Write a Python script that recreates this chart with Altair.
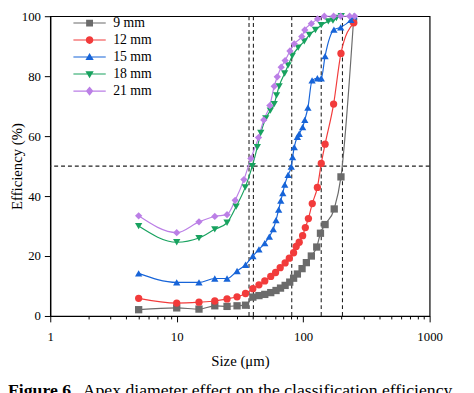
import altair as alt
import pandas as pd

series_names = ["9 mm", "12 mm", "15 mm", "18 mm", "21 mm"]
colors = ["#6b6b6b", "#f23b3b", "#1764d8", "#18a25f", "#bb7fe6"]
point_shapes = ["square", "circle", "triangle-up", "triangle-down", "diamond"]

size_9 = [5, 10, 15, 20, 25, 30, 35, 40, 44.7, 49.7, 55.4, 61, 66.2, 72, 78.3, 84, 90, 98, 106, 116, 128, 137, 149, 176, 199, 250]
eff_9 = [2.1, 2.7, 2.3, 3.4, 3.2, 3.4, 3.6, 6.3, 6.8, 7.2, 7.8, 8.5, 9.3, 10.2, 11.3, 12.6, 14.0, 15.8, 17.8, 20.0, 23.0, 27.6, 30.5, 35.7, 46.4, 98.5]

size_12 = [5, 10, 15, 20, 25, 30, 35, 40, 44.7, 49.7, 55.4, 60.5, 65.8, 72, 77.7, 84, 88, 93, 99, 104, 110, 118, 129.5, 139, 149, 174, 199, 251]
eff_12 = [5.9, 4.3, 4.6, 5.0, 5.7, 6.4, 7.5, 9.1, 10.4, 11.7, 13.2, 14.5, 16.1, 17.7, 19.3, 21.1, 23.2, 24.6, 26.8, 29.5, 32.5, 37.5, 42.9, 50.9, 57.3, 70.7, 87.6, 97.8]

size_15 = [5, 10, 15, 20, 25, 30, 35, 40, 44.7, 49.7, 54, 58, 61, 64, 66.5, 69, 71.5, 76, 80.5, 82.5, 85, 90, 93, 99, 103, 109, 117.6, 129.5, 139, 149, 175, 198, 238, 252]
eff_15 = [14.2, 11.2, 11.2, 12.5, 12.5, 15.0, 17.1, 20.0, 22.2, 24.3, 26.5, 29.0, 32.0, 35.5, 38.5, 41.0, 43.8, 47.1, 49.8, 53.0, 56.3, 59.8, 60.8, 63.0, 65.4, 69.5, 78.6, 79.3, 79.3, 86.7, 95.5, 96.3, 98.8, 100]

size_18 = [5, 10, 15, 20, 25, 29.5, 34.8, 39.6, 43.4, 46.2, 50.6, 55, 59, 61.6, 64.5, 71.3, 76, 82, 91.3, 102, 112, 125, 139, 158, 172, 183, 200]
eff_18 = [30.0, 24.6, 26.0, 28.9, 31.1, 36.5, 42.9, 50.0, 56.3, 61.1, 65.9, 68.5, 70.7, 73.6, 76.6, 80.9, 83.6, 86.8, 89.5, 91.6, 93.8, 95.4, 97.0, 98.3, 98.5, 99.4, 100]

size_21 = [5, 10, 15, 20, 25, 29, 34, 38.6, 44.3, 48.8, 54.5, 59, 62.4, 67, 72, 78.6, 85, 97.5, 103, 116, 130, 147, 174, 198, 233, 255]
eff_21 = [33.4, 27.8, 31.4, 33.2, 33.8, 38.6, 45.5, 52.5, 59.5, 65.4, 70.2, 76.6, 79.8, 83.0, 85.2, 88.4, 90.8, 93.2, 95.4, 97.5, 99.1, 100, 100, 100, 100, 100]

cut_sizes = [37.3, 40.4, 81.2, 138.9, 204.5]
half_efficiency = [50]

x_major = [1, 10, 100, 1000]
x_ticks = [m * k for m in [1, 10, 100] for k in range(1, 10)] + [1000]
y_ticks = list(range(0, 101, 5))

caption_bold = ["Figure 6."]
caption_rest = ["Apex diameter effect on the classification efficiency"]

# legend symbols: a short line with the marker on it
legend_line = "M-4.7,-0.15H4.7V0.15H-4.7Z"
legend_markers = [
    "M-1,-1H1V1H-1Z",
    "M-1.1,0A1.1,1.1,0,1,1,1.1,0A1.1,1.1,0,1,1,-1.1,0Z",
    "M0,-1.2L1.2,0.85H-1.2Z",
    "M0,1.2L-1.2,-0.85H1.2Z",
    "M0,-1.35L1.1,0L0,1.35L-1.1,0Z",
]
legend_paths = [legend_line + m for m in legend_markers]

sizes = [size_9, size_12, size_15, size_18, size_21]
effs = [eff_9, eff_12, eff_15, eff_18, eff_21]
rows = []
for name, xs, ys in zip(series_names, sizes, effs):
    for a, b in zip(xs, ys):
        rows.append({"series": name, "size": a, "eff": b})
df = pd.DataFrame(rows)

FONT = "Liberation Serif"
is_major_x = " || ".join(f"datum.value == {v}" for v in x_major)
is_major_y = "datum.value % 10 == 0"

xscale = alt.Scale(type="log", domain=[1, 1000])
yscale = alt.Scale(domain=[0, 100], nice=False, zero=False)

x_axis = alt.Axis(
    values=x_ticks,
    labelExpr=f"({is_major_x}) ? format(datum.value, 'd') : ''",
    tickSize={"condition": {"test": is_major_x, "value": 6}, "value": 3},
    title="Size (μm)",
    grid=False,
    labelFlush=False,
    labelOverlap=False,
    labelPadding=9,
    titlePadding=10,
    labelFont=FONT, labelFontSize=13, titleFont=FONT, titleFontSize=15,
)
y_axis = alt.Axis(
    values=y_ticks,
    labelExpr=f"({is_major_y}) ? datum.label : ''",
    tickSize={"condition": {"test": is_major_y, "value": 6}, "value": 3},
    title="Efficiency (%)",
    grid=False,
    labelPadding=4,
    titlePadding=-3,
    labelOverlap=False,
    labelFont=FONT, labelFontSize=13, titleFont=FONT, titleFontSize=15,
)

X = alt.X("size:Q", scale=xscale, axis=x_axis)
Y = alt.Y("eff:Q", scale=yscale, axis=y_axis)

color_plain = alt.Color("series:N", scale=alt.Scale(domain=series_names, range=colors), legend=None)

lines = alt.Chart(df).mark_line(interpolate="monotone", strokeWidth=1.2).encode(
    x=X, y=Y, color=color_plain, detail="series:N"
)
points = alt.Chart(df).mark_point(filled=True, size=55, opacity=1).encode(
    x=X, y=Y, color=color_plain,
    shape=alt.Shape("series:N", scale=alt.Scale(domain=series_names, range=point_shapes), legend=None),
)

legend_props = dict(
    title=None, orient="none", legendX=33, legendY=0, symbolSize=49,
    labelFont=FONT, labelFontSize=14, labelColor="black", labelOffset=17,
    rowPadding=3.3, symbolStrokeWidth=0, symbolOpacity=1, padding=0,
)
legend_layer = alt.Chart(df).transform_filter("false").mark_point(filled=True, opacity=1).encode(
    x=X, y=Y,
    color=alt.Color("series:N", scale=alt.Scale(domain=series_names, range=colors),
                    legend=alt.Legend(**legend_props)),
    shape=alt.Shape("series:N", scale=alt.Scale(domain=series_names, range=legend_paths),
                    legend=alt.Legend(**legend_props)),
)

vrules = alt.Chart(pd.DataFrame({"size": cut_sizes})).mark_rule(
    color="#222222", strokeDash=[4, 3], strokeWidth=1.1
).encode(x=X, y=alt.datum(0, scale=yscale), y2=alt.datum(100))
hrule = alt.Chart(pd.DataFrame({"eff": half_efficiency})).mark_rule(
    color="#222222", strokeDash=[4, 3], strokeWidth=1.1
).encode(y=Y)

cap1 = alt.Chart(pd.DataFrame({"t": caption_bold})).mark_text(
    align="left", baseline="alphabetic", font=FONT, fontSize=18, fontWeight="bold", color="black"
).encode(text="t:N", x=alt.value(-43), y=alt.value(386))
cap2 = alt.Chart(pd.DataFrame({"t": caption_rest})).mark_text(
    align="left", baseline="alphabetic", font=FONT, fontSize=18, color="black"
).encode(text="t:N", x=alt.value(33), y=alt.value(386))

chart = alt.layer(vrules, hrule, lines, points, legend_layer, cap1, cap2).resolve_scale(
    color="independent", shape="independent"
).properties(
    width=386, height=305,
    padding={"left": 43, "top": 5, "right": 37, "bottom": 75},
    autosize=alt.AutoSizeParams(type="none"),
).configure(font=FONT).configure_view(stroke="black", strokeWidth=1.2).configure_axis(
    labelFont=FONT, labelFontSize=13, labelColor="black",
    titleFont=FONT, titleFontSize=15, titleFontWeight="normal", titleColor="black",
    domainColor="black", tickColor="black", domainWidth=1.2, tickWidth=1,
).configure_legend(labelFont=FONT)

chart.save("out.html", embed_options={"renderer": "svg", "actions": False})
